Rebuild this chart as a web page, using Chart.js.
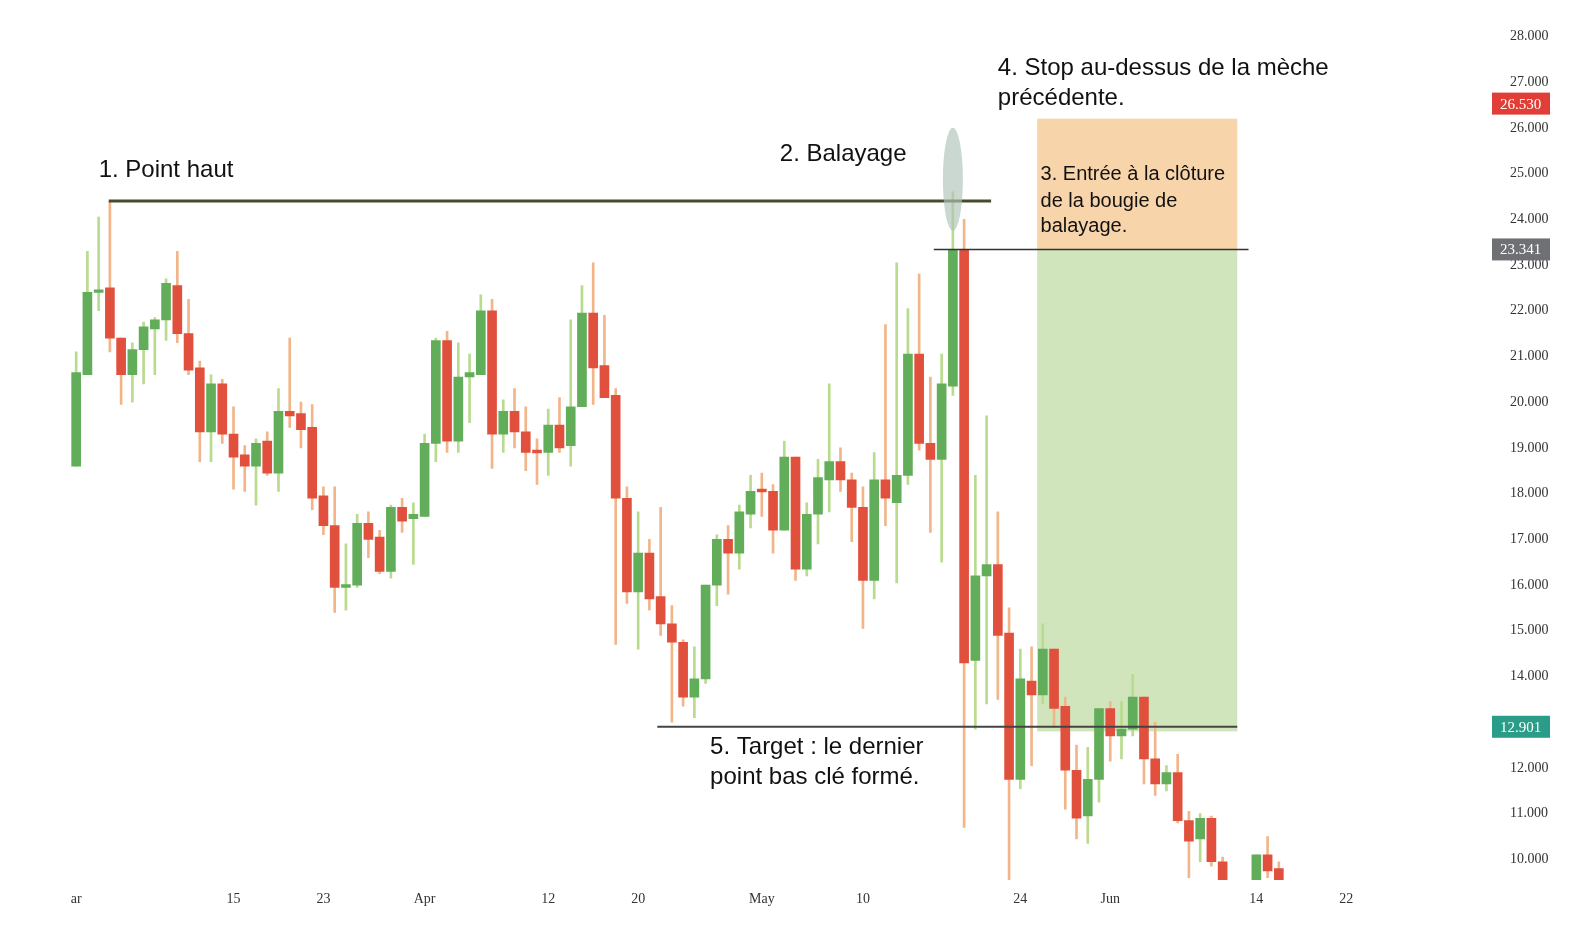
<!DOCTYPE html>
<html>
<head>
<meta charset="utf-8">
<script src="https://cdn.jsdelivr.net/npm/chart.js@4/dist/chart.umd.min.js"></script>
<style>
html,body{margin:0;padding:0;background:#fff;overflow:hidden;}
</style>
</head>
<body>
<canvas id="c" width="1584" height="928"></canvas>
<script>
// bougies journalières, index 0 = 1er mars
var opens  = [18.6,20.6,22.4,22.5,21.4,20.6,21.15,21.6,21.8,22.55,21.5,20.75,19.35,20.4,19.3,18.85,18.6,19.15,18.45,19.8,19.75,19.45,17.95,17.3,15.95,16.0,17.35,17.05,16.3,17.7,17.45,17.5,19.1,21.35,19.15,20.55,20.6,22.0,19.3,19.8,19.35,18.95,18.9,19.5,19.05,19.9,21.95,20.8,20.15,17.9,15.85,16.7,15.75,15.15,14.75,13.55,13.95,16.0,17.0,16.7,17.55,18.1,18.05,17.2,18.8,16.35,17.55,18.3,18.7,18.3,17.7,16.1,18.3,17.8,18.4,21.05,19.1,18.75,20.35,23.34,14.35,16.2,16.45,14.95,11.75,13.9,13.6,14.6,13.35,11.95,10.95,11.75,13.3,12.7,12.85,13.55,12.2,11.65,11.9,10.85,10.45,10.9,9.95,9.3,9.0,9.4,10.1,9.8];
var closes = [20.65,22.4,22.45,21.4,20.6,21.15,21.65,21.8,22.6,21.5,20.7,19.35,20.4,19.3,18.8,18.6,19.1,18.45,19.8,19.7,19.4,17.9,17.3,15.95,16.0,17.35,17.0,16.3,17.7,17.4,17.55,19.1,21.35,19.15,20.55,20.65,22.0,19.3,19.8,19.35,18.9,18.9,19.5,19.0,19.9,21.95,20.75,20.1,17.9,15.85,16.7,15.7,15.15,14.75,13.55,13.95,16.0,17.0,16.7,17.6,18.05,18.05,17.2,18.8,16.35,17.55,18.35,18.7,18.3,17.7,16.1,18.3,17.9,18.4,21.05,19.1,18.75,20.4,23.34,14.3,16.2,16.45,14.9,11.75,13.95,13.6,14.6,13.3,11.95,10.9,11.75,13.3,12.7,12.85,13.55,12.2,11.65,11.9,10.85,10.4,10.9,9.95,9.3,9.0,9.35,10.1,9.75,9.5];
var highs  = [21.1,23.3,24.05,24.4,21.4,21.3,21.75,21.85,22.7,23.3,22.25,20.9,20.6,20.5,19.9,19.05,19.2,19.35,20.3,21.4,20.0,19.95,18.15,18.15,16.9,17.55,17.6,17.2,17.75,17.9,17.8,19.3,21.4,21.55,21.3,21.05,22.35,22.25,20.05,20.3,19.9,19.2,19.85,20.1,21.8,22.55,23.05,21.9,20.3,18.15,17.6,17.0,17.7,15.55,14.8,14.65,16.0,17.1,17.3,17.75,18.4,18.45,18.2,19.15,18.8,17.8,18.75,20.4,19.0,18.45,18.15,18.9,21.7,23.05,22.05,22.8,20.55,21.05,24.6,24.0,18.4,19.7,17.6,15.5,14.6,14.65,15.15,14.6,13.55,12.5,12.45,13.3,13.45,13.45,14.05,13.55,13.0,12.05,12.3,11.05,11.0,10.95,10.05,9.4,9.45,10.1,10.5,9.95];
var lows   = [18.6,20.6,22.0,21.1,19.95,20.0,20.4,20.6,21.35,21.3,20.6,18.7,18.7,19.1,18.1,18.05,17.75,18.4,18.05,19.45,19.0,17.65,17.1,15.4,15.45,15.95,16.6,16.25,16.15,17.15,16.45,17.5,18.7,18.9,18.9,19.55,20.6,18.55,18.9,19.0,18.5,18.2,18.4,18.9,18.6,19.9,19.95,20.1,14.7,15.6,14.6,15.45,14.9,13.0,13.35,13.1,13.85,15.55,15.8,16.35,17.25,17.5,16.7,17.2,16.1,16.2,16.9,17.6,18.05,16.95,15.05,15.7,17.3,16.05,18.2,18.95,17.15,16.5,20.15,10.7,12.85,13.4,13.5,9.5,11.55,12.05,13.4,12.9,11.1,10.45,10.35,11.25,12.15,12.2,12.7,11.65,11.4,11.5,10.8,9.6,9.95,9.85,9.1,8.8,8.8,9.3,9.6,9.4];

var tickIdx    = [0,14,22,31,42,50,61,70,84,92,105,113];
var tickLabels = ["ar","15","23","Apr","12","20","May","10","24","Jun","14","22"];
var yTicks = [10,11,12,13,14,15,16,17,18,19,20,21,22,23,24,25,26,27,28];

var pointHaut = 24.4, entree = 23.341, target = 12.901, stop = 26.2, dernier = 26.530;

var green = "#62ad5a", red = "#e1503d", greenW = "#b9db8e", redW = "#f1b589";

var bodies = [], wicks = [], bodyCol = [], wickCol = [];
for (var i = 0; i < opens.length; i++) {
	var up = closes[i] >= opens[i];
	var a = opens[i], b = closes[i];
	if (Math.abs(a - b) < 0.06) { b = a + (up ? 0.06 : -0.06); }
	bodies.push({x: i, y: [a, b]});
	wicks.push({x: i, y: [lows[i], highs[i]]});
	bodyCol.push(up ? green : red);
	wickCol.push(up ? greenW : redW);
}

// zones, lignes et textes dessinés avant / après les bougies
var drawings = {
	id: "drawings",
	beforeDatasetsDraw: function(chart) {
		var ctx = chart.ctx, x = chart.scales.x, y = chart.scales.y;
		ctx.save();
		ctx.fillStyle = "#f7d4aa";
		ctx.fillRect(x.getPixelForValue(85.5), y.getPixelForValue(stop), x.getPixelForValue(103.3) - x.getPixelForValue(85.5), y.getPixelForValue(entree) - y.getPixelForValue(stop));
		ctx.fillStyle = "#d0e5bc";
		ctx.fillRect(x.getPixelForValue(85.5), y.getPixelForValue(entree), x.getPixelForValue(103.3) - x.getPixelForValue(85.5), y.getPixelForValue(12.8) - y.getPixelForValue(entree));
		ctx.restore();
	},
	afterDatasetsDraw: function(chart) {
		var ctx = chart.ctx, x = chart.scales.x, y = chart.scales.y;
		ctx.save();
		function hline(v, i0, i1, col, w) {
			ctx.strokeStyle = col; ctx.lineWidth = w;
			ctx.beginPath();
			ctx.moveTo(x.getPixelForValue(i0), y.getPixelForValue(v));
			ctx.lineTo(x.getPixelForValue(i1), y.getPixelForValue(v));
			ctx.stroke();
		}
		hline(pointHaut, 2.9, 81.4, "#4a4a2c", 3);
		hline(entree, 76.3, 104.3, "#333", 1.5);
		hline(target, 51.7, 103.3, "#444", 2);
		// ellipse du balayage
		ctx.fillStyle = "rgba(175,195,185,0.65)";
		ctx.beginPath();
		var cy = (y.getPixelForValue(26.0) + y.getPixelForValue(23.75)) / 2;
		var ry = (y.getPixelForValue(23.75) - y.getPixelForValue(26.0)) / 2;
		ctx.ellipse(x.getPixelForValue(78), cy, 10, ry, 0, 0, Math.PI * 2);
		ctx.fill();
		ctx.fillStyle = "#111";
		ctx.textBaseline = "middle";
		ctx.font = "24px 'Liberation Sans', Arial, sans-serif";
		function txt(s, i, v) { ctx.fillText(s, x.getPixelForValue(i), y.getPixelForValue(v)); }
		txt("1. Point haut", 2.0, 25.08);
		txt("2. Balayage", 62.6, 25.42);
		txt("4. Stop au-dessus de la mèche", 82.0, 27.31);
		txt("précédente.", 82.0, 26.65);
		txt("5. Target : le dernier", 56.4, 12.46);
		txt("point bas clé formé.", 56.4, 11.8);
		ctx.font = "20px 'Liberation Sans', Arial, sans-serif";
		txt("3. Entrée à la clôture", 85.8, 24.97);
		txt("de la bougie de", 85.8, 24.4);
		txt("balayage.", 85.8, 23.84);
		ctx.restore();
	},
	afterDraw: function(chart) {
		var ctx = chart.ctx, y = chart.scales.y;
		ctx.save();
		function badge(v, bg) {
			var py = y.getPixelForValue(v);
			ctx.fillStyle = bg;
			ctx.fillRect(y.left + 2, py - 11, 58, 22);
			ctx.fillStyle = "#fff";
			ctx.font = "15px 'Liberation Serif', serif";
			ctx.textBaseline = "middle";
			ctx.fillText(v.toFixed(3), y.left + 10, py + 1);
		}
		badge(dernier, "#e03e36");
		badge(entree, "#6e7074");
		badge(target, "#2a9d88");
		ctx.restore();
	}
};

new Chart(document.getElementById("c").getContext("2d"), {
	type: "bar",
	data: {
		datasets: [
			{data: wicks, backgroundColor: wickCol, barThickness: 2, grouped: false, order: 2},
			{data: bodies, backgroundColor: bodyCol, barThickness: 9, grouped: false, order: 1}
		]
	},
	options: {
		responsive: false,
		animation: false,
		devicePixelRatio: 1,
		layout: {padding: {top: 4, bottom: 14, left: 10, right: 0}},
		plugins: {legend: {display: false}, tooltip: {enabled: false}},
		scales: {
			x: {
				type: "linear", min: -0.4, max: 120.3,
				grid: {display: false}, border: {display: false},
				afterBuildTicks: function(s) { s.ticks = tickIdx.map(function(v){ return {value: v}; }); },
				ticks: {
					autoSkip: false, maxRotation: 0,
					color: "#333", font: {family: "'Liberation Serif', serif", size: 14},
					callback: function(v) { var k = tickIdx.indexOf(v); return k >= 0 ? tickLabels[k] : ""; }
				},
				afterFit: function(s) { s.height = 34; }
			},
			y: {
				position: "right", min: 9.55, max: 28.35,
				grid: {display: false}, border: {display: false},
				afterBuildTicks: function(s) { s.ticks = yTicks.map(function(v){ return {value: v}; }); },
				ticks: {
					color: "#333", padding: 12, font: {family: "'Liberation Serif', serif", size: 14},
					callback: function(v) { return v.toFixed(3); }
				},
				afterFit: function(s) { s.width = 94; }
			}
		}
	},
	plugins: [drawings]
});
</script>
</body>
</html>
